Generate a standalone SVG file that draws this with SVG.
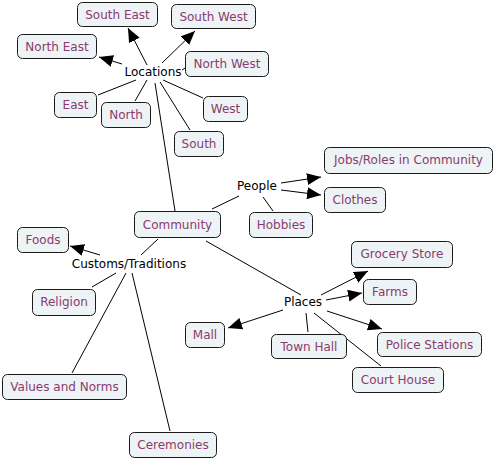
<svg xmlns="http://www.w3.org/2000/svg" width="494" height="459" viewBox="0 0 494 459">
<style>
.n rect{fill:#eef3f6;stroke:#1a1a1a;stroke-width:1}
.n text{font-family:"DejaVu Sans",Verdana,sans-serif;font-size:12px;fill:#8a3b6c;text-anchor:middle}
.l text{font-family:"DejaVu Sans",Verdana,sans-serif;font-size:12px;fill:#000;text-anchor:middle}
#connectors line{stroke:#000;stroke-width:1;fill:none}
#connectors line.a{marker-end:url(#ah)}
</style>
<defs>
<marker id="ah" markerUnits="userSpaceOnUse" markerWidth="14" markerHeight="12" viewBox="0 0 14 12" refX="14" refY="6" orient="auto">
<path d="M0,0 L14,6 L0,12 Z" fill="#000"/>
</marker>
</defs>
<rect width="494" height="459" fill="#fff"/>
<g id="connectors">
<line x1="155" y1="83" x2="175" y2="211"/>
<line class="a" x1="147" y1="65" x2="128" y2="28"/>
<line class="a" x1="162" y1="63" x2="195" y2="31"/>
<line class="a" x1="122" y1="64" x2="99" y2="57"/>
<line x1="182" y1="70" x2="185" y2="68"/>
<line x1="136" y1="80" x2="98" y2="95"/>
<line x1="147" y1="80" x2="135" y2="101"/>
<line x1="163" y1="80" x2="203" y2="98"/>
<line x1="160" y1="82" x2="190" y2="130"/>
<line x1="212" y1="209" x2="239" y2="196"/>
<line class="a" x1="281" y1="183" x2="321" y2="177"/>
<line class="a" x1="281" y1="190" x2="321" y2="195"/>
<line x1="263" y1="197" x2="273" y2="211"/>
<line x1="158" y1="239" x2="141" y2="255"/>
<line class="a" x1="100" y1="255" x2="70" y2="246"/>
<line x1="116" y1="273" x2="92" y2="287"/>
<line x1="126" y1="273" x2="72" y2="373"/>
<line x1="132" y1="273" x2="170" y2="431"/>
<line x1="206" y1="241" x2="301" y2="295"/>
<line class="a" x1="321" y1="295" x2="368" y2="271"/>
<line class="a" x1="326" y1="300" x2="362" y2="293"/>
<line class="a" x1="327" y1="311" x2="382" y2="329"/>
<line class="a" x1="283" y1="310" x2="228" y2="328"/>
<line x1="306" y1="313" x2="308" y2="332"/>
<line x1="314" y1="313" x2="381" y2="366"/>
</g>
<g id="locations" class="l"><text x="153" y="76">Locations</text></g>
<g id="people" class="l"><text x="257" y="190">People</text></g>
<g id="customs" class="l"><text x="129" y="268">Customs/Traditions</text></g>
<g id="places" class="l"><text x="303" y="306">Places</text></g>
<g id="south-east" class="n"><rect x="77.5" y="2.5" width="80" height="24" rx="5"/><text x="117.5" y="19">South East</text></g>
<g id="south-west" class="n"><rect x="171.5" y="4.5" width="84" height="24" rx="5"/><text x="213.5" y="21">South West</text></g>
<g id="north-east" class="n"><rect x="17.5" y="34.5" width="79" height="24" rx="5"/><text x="57" y="51">North East</text></g>
<g id="north-west" class="n"><rect x="185.5" y="51.5" width="83" height="25" rx="5"/><text x="227" y="68">North West</text></g>
<g id="east" class="n"><rect x="54.5" y="92.5" width="42" height="25" rx="5"/><text x="75.5" y="109">East</text></g>
<g id="north" class="n"><rect x="101.5" y="102.5" width="49" height="25" rx="5"/><text x="126" y="119">North</text></g>
<g id="west" class="n"><rect x="203.5" y="96.5" width="44" height="25" rx="5"/><text x="225.5" y="113">West</text></g>
<g id="south" class="n"><rect x="174.5" y="131.5" width="49" height="25" rx="5"/><text x="199" y="148">South</text></g>
<g id="jobs" class="n"><rect x="324.5" y="147.5" width="168" height="26" rx="5"/><text x="408.5" y="164">Jobs/Roles in Community</text></g>
<g id="clothes" class="n"><rect x="324.5" y="187.5" width="61" height="25" rx="5"/><text x="355" y="204">Clothes</text></g>
<g id="hobbies" class="n"><rect x="249.5" y="212.5" width="63" height="25" rx="5"/><text x="281" y="229">Hobbies</text></g>
<g id="community" class="n"><rect x="134.5" y="211.5" width="86" height="26" rx="5"/><text x="177.5" y="229">Community</text></g>
<g id="foods" class="n"><rect x="17.5" y="227.5" width="51" height="25" rx="5"/><text x="43" y="244">Foods</text></g>
<g id="religion" class="n"><rect x="32.5" y="289.5" width="63" height="26" rx="5"/><text x="64" y="306">Religion</text></g>
<g id="values" class="n"><rect x="2.5" y="374.5" width="124" height="25" rx="5"/><text x="64.5" y="391">Values and Norms</text></g>
<g id="ceremonies" class="n"><rect x="129.5" y="432.5" width="87" height="25" rx="5"/><text x="173" y="449">Ceremonies</text></g>
<g id="mall" class="n"><rect x="185.5" y="322.5" width="39" height="25" rx="5"/><text x="205" y="339">Mall</text></g>
<g id="grocery" class="n"><rect x="351.5" y="241.5" width="101" height="26" rx="5"/><text x="402" y="258">Grocery Store</text></g>
<g id="farms" class="n"><rect x="363.5" y="279.5" width="53" height="25" rx="5"/><text x="390" y="296">Farms</text></g>
<g id="town-hall" class="n"><rect x="271.5" y="334.5" width="75" height="24" rx="5"/><text x="309" y="351">Town Hall</text></g>
<g id="police" class="n"><rect x="377.5" y="332.5" width="104" height="24" rx="5"/><text x="429.5" y="349">Police Stations</text></g>
<g id="court" class="n"><rect x="352.5" y="367.5" width="91" height="25" rx="5"/><text x="398" y="384">Court House</text></g>
</svg>
